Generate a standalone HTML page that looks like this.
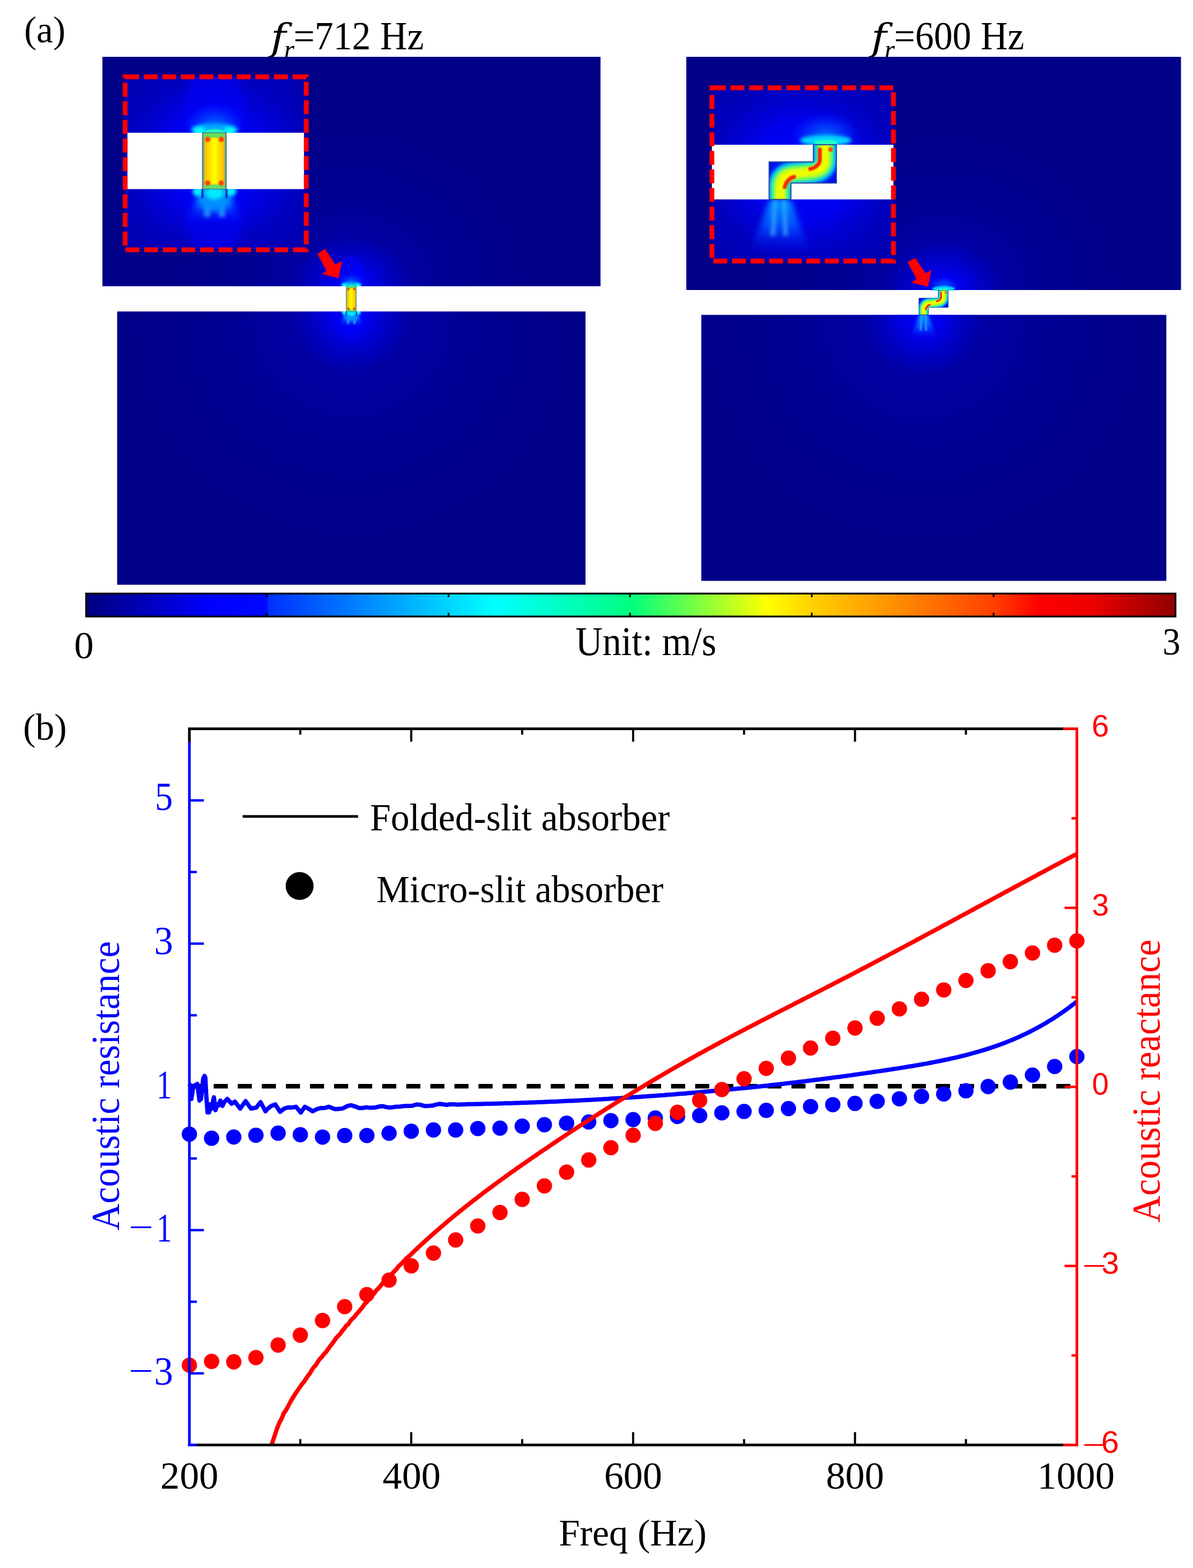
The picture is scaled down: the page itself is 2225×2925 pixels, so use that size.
<!DOCTYPE html>
<html><head><meta charset="utf-8"><title>Figure</title>
<style>html,body{margin:0;padding:0;background:#fff;} body{width:2225px;height:2925px;overflow:hidden;} svg{display:block;}</style>
</head><body>
<svg width="2225" height="2925" viewBox="0 0 2225 2925">
<rect x="0" y="0" width="2225" height="2925" fill="#fff"/>

<defs>
 <linearGradient id="cbar" x1="0" x2="1" y1="0" y2="0">
  <stop offset="0" stop-color="#00007f"/>
  <stop offset="0.115" stop-color="#0000ff"/>
  <stop offset="0.165" stop-color="#0008ff"/>
  <stop offset="0.168" stop-color="#0030ff"/>
  <stop offset="0.375" stop-color="#00ffff"/>
  <stop offset="0.5" stop-color="#00ff80"/>
  <stop offset="0.625" stop-color="#ffff00"/>
  <stop offset="0.667" stop-color="#ffd000"/>
  <stop offset="0.833" stop-color="#ff4000"/>
  <stop offset="0.875" stop-color="#ff0000"/>
  <stop offset="0.92" stop-color="#f00000"/>
  <stop offset="1" stop-color="#8f0000"/>
 </linearGradient>
 <radialGradient id="halo" cx="0.5" cy="0.5" r="0.5">
  <stop offset="0" stop-color="#0000ff" stop-opacity="0.75"/>
  <stop offset="0.25" stop-color="#0000ff" stop-opacity="0.45"/>
  <stop offset="0.6" stop-color="#0000ff" stop-opacity="0.15"/>
  <stop offset="1" stop-color="#0000ff" stop-opacity="0"/>
 </radialGradient>
 <radialGradient id="halo2" cx="0.5" cy="0.5" r="0.5">
  <stop offset="0" stop-color="#0000ff" stop-opacity="1"/>
  <stop offset="0.3" stop-color="#0000ff" stop-opacity="0.75"/>
  <stop offset="0.65" stop-color="#0000ff" stop-opacity="0.3"/>
  <stop offset="1" stop-color="#0000ff" stop-opacity="0"/>
 </radialGradient>
 <radialGradient id="insetbg" cx="0.5" cy="0.5" r="0.5">
  <stop offset="0" stop-color="#0000ff"/>
  <stop offset="0.4" stop-color="#0000f4" stop-opacity="0.9"/>
  <stop offset="1" stop-color="#0000b0" stop-opacity="0"/>
 </radialGradient>
 <radialGradient id="cyanglow" cx="0.5" cy="0.5" r="0.5">
  <stop offset="0" stop-color="#00ffff"/>
  <stop offset="0.35" stop-color="#00e0ff"/>
  <stop offset="0.7" stop-color="#0080ff" stop-opacity="0.7"/>
  <stop offset="1" stop-color="#0000ff" stop-opacity="0"/>
 </radialGradient>
 <radialGradient id="cyanglow2" cx="0.5" cy="0.5" r="0.5">
  <stop offset="0" stop-color="#00c0ff"/>
  <stop offset="0.4" stop-color="#0090ff"/>
  <stop offset="0.75" stop-color="#0040ff" stop-opacity="0.6"/>
  <stop offset="1" stop-color="#0000ff" stop-opacity="0"/>
 </radialGradient>
 <linearGradient id="slitg" x1="0" x2="1" y1="0" y2="0">
  <stop offset="0" stop-color="#30a0a0"/>
  <stop offset="0.12" stop-color="#ffc000"/>
  <stop offset="0.5" stop-color="#ffff00"/>
  <stop offset="0.88" stop-color="#ffc000"/>
  <stop offset="1" stop-color="#30a0a0"/>
 </linearGradient>
 <linearGradient id="zg" x1="0" y1="1" x2="1" y2="0">
  <stop offset="0" stop-color="#ffb000"/>
  <stop offset="0.3" stop-color="#ff4000"/>
  <stop offset="0.5" stop-color="#ffff00"/>
  <stop offset="0.7" stop-color="#ff4000"/>
  <stop offset="1" stop-color="#ffb000"/>
 </linearGradient>
 <filter id="blur3" x="-50%" y="-50%" width="200%" height="200%"><feGaussianBlur stdDeviation="3"/></filter>
 <filter id="blur6" x="-50%" y="-50%" width="200%" height="200%"><feGaussianBlur stdDeviation="6"/></filter>
 <filter id="blur1" x="-50%" y="-50%" width="200%" height="200%"><feGaussianBlur stdDeviation="1.2"/></filter>
 <clipPath id="cTL"><rect x="191" y="106" width="929" height="428"/></clipPath>
 <clipPath id="cBL"><rect x="218.5" y="581" width="873.5" height="509.8"/></clipPath>
 <clipPath id="cTR"><rect x="1280" y="106" width="922.6" height="435"/></clipPath>
 <clipPath id="cBR"><rect x="1308" y="587.4" width="867.3" height="496.2"/></clipPath>
 <clipPath id="cInL"><rect x="233" y="143" width="338" height="323"/></clipPath>
 <clipPath id="cInR"><rect x="1327.7" y="163.8" width="338.6" height="323.1"/></clipPath>
</defs>

<text transform="translate(44.92,79.48) scale(0.6961,0.7056)" font-family='"Liberation Serif", "Times New Roman", serif' font-style="normal" font-size="100" fill="#000">(a)</text>
<text transform="translate(504.79,94.10) scale(0.7810,0.6856)" font-family='"DejaVu Serif", serif' font-style="italic" font-size="100" fill="#000">f</text>
<text transform="translate(529.50,108.90) scale(0.5000,0.5000)" font-family='"Liberation Serif", "Times New Roman", serif' font-style="italic" font-size="100" fill="#000">r</text>
<text transform="translate(547.41,91.80) scale(0.6982,0.7385)" font-family='"Liberation Serif", "Times New Roman", serif' font-style="normal" font-size="100" fill="#000">=712 Hz</text>
<text transform="translate(1624.79,94.10) scale(0.7810,0.6856)" font-family='"DejaVu Serif", serif' font-style="italic" font-size="100" fill="#000">f</text>
<text transform="translate(1649.50,108.90) scale(0.5000,0.5000)" font-family='"Liberation Serif", "Times New Roman", serif' font-style="italic" font-size="100" fill="#000">r</text>
<text transform="translate(1667.41,91.97) scale(0.6982,0.7299)" font-family='"Liberation Serif", "Times New Roman", serif' font-style="normal" font-size="100" fill="#000">=600 Hz</text>
<rect x="191" y="106" width="929" height="428" fill="#000089"/>
<g clip-path="url(#cTL)"><ellipse cx="655" cy="540" rx="330" ry="300" fill="url(#halo)" opacity="0.55"/><ellipse cx="655" cy="534" rx="110" ry="95" fill="url(#halo2)"/></g>
<rect x="218.5" y="581" width="873.5" height="509.8" fill="#000089"/>
<g clip-path="url(#cBL)"><ellipse cx="655" cy="590" rx="420" ry="420" fill="url(#halo)" opacity="0.5"/><ellipse cx="655" cy="585" rx="110" ry="110" fill="url(#halo2)"/></g>
<rect x="1280" y="106" width="922.6" height="435" fill="#000089"/>
<g clip-path="url(#cTR)"><ellipse cx="1760" cy="545" rx="330" ry="300" fill="url(#halo)" opacity="0.55"/><ellipse cx="1760" cy="541" rx="110" ry="95" fill="url(#halo2)"/></g>
<rect x="1308" y="587.4" width="867.3" height="496.2" fill="#000089"/>
<g clip-path="url(#cBR)"><ellipse cx="1722" cy="595" rx="420" ry="420" fill="url(#halo)" opacity="0.5"/><ellipse cx="1722" cy="592" rx="110" ry="110" fill="url(#halo2)"/></g>
<defs><clipPath id="cZ"><polygon points="1517,270 1560,270 1560,341.6 1475.2,341.6 1475.2,372 1434.4,372 1434.4,302 1517,302"/></clipPath><radialGradient id="gLB" cx="0.5" cy="0.5" r="0.5"><stop offset="0" stop-color="#0070ff" stop-opacity="0.95"/><stop offset="0.55" stop-color="#0040ff" stop-opacity="0.6"/><stop offset="1" stop-color="#0000ff" stop-opacity="0"/></radialGradient><linearGradient id="gFan" x1="0" y1="0" x2="0" y2="1"><stop offset="0" stop-color="#00a0ff"/><stop offset="0.5" stop-color="#0060ff" stop-opacity="0.8"/><stop offset="1" stop-color="#0020ff" stop-opacity="0"/></linearGradient></defs>
<g transform="translate(481.78,422.76) scale(0.4337,0.4489)"><g><ellipse cx="400" cy="200" rx="55" ry="80" fill="#0000ff" opacity="0.55" filter="url(#blur6)"/><ellipse cx="400" cy="232" rx="62" ry="40" fill="url(#gLB)" filter="url(#blur6)"/><ellipse cx="400" cy="242" rx="44" ry="12" fill="#00a8ff" filter="url(#blur3)"/><ellipse cx="372" cy="244" rx="11" ry="7" fill="#00ffff" filter="url(#blur3)"/><ellipse cx="428" cy="244" rx="11" ry="7" fill="#00ffff" filter="url(#blur3)"/><ellipse cx="400" cy="246" rx="18" ry="5" fill="#20ffc0" filter="url(#blur1)"/><ellipse cx="400" cy="400" rx="55" ry="75" fill="#0000ff" opacity="0.5" filter="url(#blur6)"/><polygon points="376,352 424,352 452,415 348,415" fill="url(#gFan)" filter="url(#blur6)"/><polygon points="384,352 392,352 392,405 380,405" fill="#30b0ff" opacity="0.7" filter="url(#blur3)"/><polygon points="408,352 416,352 420,405 408,405" fill="#30b0ff" opacity="0.7" filter="url(#blur3)"/><ellipse cx="400" cy="372" rx="30" ry="22" fill="#0090ff" filter="url(#blur6)"/><ellipse cx="370" cy="357" rx="11" ry="9" fill="#00f0ff" filter="url(#blur3)"/><ellipse cx="430" cy="357" rx="11" ry="9" fill="#00f0ff" filter="url(#blur3)"/><ellipse cx="400" cy="360" rx="17" ry="12" fill="#00e8ff" filter="url(#blur3)"/><rect x="376" y="352" width="3" height="18" fill="#0000c0" filter="url(#blur1)"/><rect x="421" y="352" width="3" height="18" fill="#0000c0" filter="url(#blur1)"/><rect x="237.8" y="247.8" width="329" height="104.7" fill="#fff"/><rect x="377.5" y="247.8" width="44.5" height="104.7" fill="url(#slitg)"/><rect x="381" y="247.8" width="37.5" height="9" fill="#60e060" filter="url(#blur1)"/><rect x="381" y="344" width="37.5" height="8.5" fill="#60e060" filter="url(#blur1)"/><circle cx="387.4" cy="260" r="5" fill="#ff4000" filter="url(#blur1)"/><circle cx="412.7" cy="260" r="5" fill="#ff4000" filter="url(#blur1)"/><circle cx="387.4" cy="341.5" r="5" fill="#ff4000" filter="url(#blur1)"/><circle cx="412.7" cy="341.5" r="5" fill="#ff4000" filter="url(#blur1)"/><rect x="377.5" y="247.8" width="44.5" height="104.7" fill="none" stroke="#3a7aa0" stroke-width="1.5"/></g></g>
<g transform="translate(1087.96,422.88) scale(0.4363,0.4412)"><g><ellipse cx="1540" cy="252" rx="70" ry="42" fill="url(#gLB)" filter="url(#blur6)"/><ellipse cx="1540" cy="262" rx="48" ry="10" fill="#00d8ff" filter="url(#blur3)"/><ellipse cx="1540" cy="266" rx="22" ry="5" fill="#20ffc0" filter="url(#blur1)"/><polygon points="1436,372 1474,372 1510,470 1400,470" fill="url(#gFan)" filter="url(#blur6)"/><polygon points="1442,372 1450,372 1447,440 1436,440" fill="#30a8ff" opacity="0.7" filter="url(#blur3)"/><polygon points="1458,372 1466,372 1470,440 1460,440" fill="#30a8ff" opacity="0.7" filter="url(#blur3)"/><rect x="1300" y="270" width="400" height="102" fill="#fff"/><g clip-path="url(#cZ)"><polygon points="1517,270 1560,270 1560,341.6 1475.2,341.6 1475.2,372 1434.4,372 1434.4,302 1517,302" fill="#0010f0"/><path d="M1538.5,262 L1538.5,300 Q1537,318 1512,321 L1478,324 Q1456,327 1455,348 L1455,380" stroke="#00c8ff" stroke-width="44" fill="none" filter="url(#blur3)"/><path d="M1538.5,262 L1538.5,300 Q1537,318 1512,321 L1478,324 Q1456,327 1455,348 L1455,380" stroke="#60ff60" stroke-width="30" fill="none" filter="url(#blur3)"/><path d="M1538.5,262 L1538.5,300 Q1537,318 1512,321 L1478,324 Q1456,327 1455,348 L1455,380" stroke="#f0ff00" stroke-width="18" fill="none" filter="url(#blur3)"/><path d="M1529,276 L1529,300 Q1527,312 1508,316" stroke="#ff2000" stroke-width="7" fill="none" filter="url(#blur1)"/><path d="M1484,329 Q1466,333 1463,352" stroke="#ff2000" stroke-width="7" fill="none" filter="url(#blur1)"/><circle cx="1549" cy="279" r="4.5" fill="#ff5000" filter="url(#blur1)"/><path d="M1440,367 L1466,367" stroke="#ff3000" stroke-width="6" fill="none" filter="url(#blur1)"/></g><polygon points="1517,270 1560,270 1560,341.6 1475.2,341.6 1475.2,372 1434.4,372 1434.4,302 1517,302" fill="none" stroke="#2a4a9a" stroke-width="2"/></g></g>
<polygon points="592,474 606,464 625,493 638,487 631.4,519 600.5,511 609,505" fill="#ff0000"/>
<polygon points="1692.4,489 1706.7,481 1726.7,510 1737.1,503.3 1731,534.8 1699.5,527.1 1709.5,520.5" fill="#ff0000"/>
<g clip-path="url(#cInL)"><rect x="233" y="143" width="338" height="323" fill="#0000b0"/><ellipse cx="400" cy="300" rx="240" ry="230" fill="url(#insetbg)"/><rect x="237.8" y="247.8" width="329" height="104.7" fill="#fff"/><g><ellipse cx="400" cy="200" rx="55" ry="80" fill="#0000ff" opacity="0.55" filter="url(#blur6)"/><ellipse cx="400" cy="232" rx="62" ry="40" fill="url(#gLB)" filter="url(#blur6)"/><ellipse cx="400" cy="242" rx="44" ry="12" fill="#00a8ff" filter="url(#blur3)"/><ellipse cx="372" cy="244" rx="11" ry="7" fill="#00ffff" filter="url(#blur3)"/><ellipse cx="428" cy="244" rx="11" ry="7" fill="#00ffff" filter="url(#blur3)"/><ellipse cx="400" cy="246" rx="18" ry="5" fill="#20ffc0" filter="url(#blur1)"/><ellipse cx="400" cy="400" rx="55" ry="75" fill="#0000ff" opacity="0.5" filter="url(#blur6)"/><polygon points="376,352 424,352 452,415 348,415" fill="url(#gFan)" filter="url(#blur6)"/><polygon points="384,352 392,352 392,405 380,405" fill="#30b0ff" opacity="0.7" filter="url(#blur3)"/><polygon points="408,352 416,352 420,405 408,405" fill="#30b0ff" opacity="0.7" filter="url(#blur3)"/><ellipse cx="400" cy="372" rx="30" ry="22" fill="#0090ff" filter="url(#blur6)"/><ellipse cx="370" cy="357" rx="11" ry="9" fill="#00f0ff" filter="url(#blur3)"/><ellipse cx="430" cy="357" rx="11" ry="9" fill="#00f0ff" filter="url(#blur3)"/><ellipse cx="400" cy="360" rx="17" ry="12" fill="#00e8ff" filter="url(#blur3)"/><rect x="376" y="352" width="3" height="18" fill="#0000c0" filter="url(#blur1)"/><rect x="421" y="352" width="3" height="18" fill="#0000c0" filter="url(#blur1)"/><rect x="237.8" y="247.8" width="329" height="104.7" fill="#fff"/><rect x="377.5" y="247.8" width="44.5" height="104.7" fill="url(#slitg)"/><rect x="381" y="247.8" width="37.5" height="9" fill="#60e060" filter="url(#blur1)"/><rect x="381" y="344" width="37.5" height="8.5" fill="#60e060" filter="url(#blur1)"/><circle cx="387.4" cy="260" r="5" fill="#ff4000" filter="url(#blur1)"/><circle cx="412.7" cy="260" r="5" fill="#ff4000" filter="url(#blur1)"/><circle cx="387.4" cy="341.5" r="5" fill="#ff4000" filter="url(#blur1)"/><circle cx="412.7" cy="341.5" r="5" fill="#ff4000" filter="url(#blur1)"/><rect x="377.5" y="247.8" width="44.5" height="104.7" fill="none" stroke="#3a7aa0" stroke-width="1.5"/></g></g>
<rect x="233.3" y="143.3" width="337.9" height="322.6" fill="none" stroke="#ff0000" stroke-width="9" stroke-dasharray="26 8.7"/>
<g clip-path="url(#cInR)"><rect x="1327.7" y="163.8" width="338.6" height="323.1" fill="#0000b0"/><ellipse cx="1497" cy="320" rx="240" ry="230" fill="url(#insetbg)"/><rect x="1332.2" y="270" width="329.6" height="102" fill="#fff"/><g><ellipse cx="1540" cy="252" rx="70" ry="42" fill="url(#gLB)" filter="url(#blur6)"/><ellipse cx="1540" cy="262" rx="48" ry="10" fill="#00d8ff" filter="url(#blur3)"/><ellipse cx="1540" cy="266" rx="22" ry="5" fill="#20ffc0" filter="url(#blur1)"/><polygon points="1436,372 1474,372 1510,470 1400,470" fill="url(#gFan)" filter="url(#blur6)"/><polygon points="1442,372 1450,372 1447,440 1436,440" fill="#30a8ff" opacity="0.7" filter="url(#blur3)"/><polygon points="1458,372 1466,372 1470,440 1460,440" fill="#30a8ff" opacity="0.7" filter="url(#blur3)"/><rect x="1300" y="270" width="400" height="102" fill="#fff"/><g clip-path="url(#cZ)"><polygon points="1517,270 1560,270 1560,341.6 1475.2,341.6 1475.2,372 1434.4,372 1434.4,302 1517,302" fill="#0010f0"/><path d="M1538.5,262 L1538.5,300 Q1537,318 1512,321 L1478,324 Q1456,327 1455,348 L1455,380" stroke="#00c8ff" stroke-width="44" fill="none" filter="url(#blur3)"/><path d="M1538.5,262 L1538.5,300 Q1537,318 1512,321 L1478,324 Q1456,327 1455,348 L1455,380" stroke="#60ff60" stroke-width="30" fill="none" filter="url(#blur3)"/><path d="M1538.5,262 L1538.5,300 Q1537,318 1512,321 L1478,324 Q1456,327 1455,348 L1455,380" stroke="#f0ff00" stroke-width="18" fill="none" filter="url(#blur3)"/><path d="M1529,276 L1529,300 Q1527,312 1508,316" stroke="#ff2000" stroke-width="7" fill="none" filter="url(#blur1)"/><path d="M1484,329 Q1466,333 1463,352" stroke="#ff2000" stroke-width="7" fill="none" filter="url(#blur1)"/><circle cx="1549" cy="279" r="4.5" fill="#ff5000" filter="url(#blur1)"/><path d="M1440,367 L1466,367" stroke="#ff3000" stroke-width="6" fill="none" filter="url(#blur1)"/></g><polygon points="1517,270 1560,270 1560,341.6 1475.2,341.6 1475.2,372 1434.4,372 1434.4,302 1517,302" fill="none" stroke="#2a4a9a" stroke-width="2"/></g></g>
<rect x="1327.7" y="163.8" width="338.6" height="323.1" fill="none" stroke="#ff0000" stroke-width="9" stroke-dasharray="26 8.7"/>
<rect x="160.65" y="1107.25" width="2031.7" height="42.8" fill="url(#cbar)" stroke="#000" stroke-width="3.3"/>
<line x1="497.5" y1="1107" x2="497.5" y2="1114" stroke="#000" stroke-width="3"/>
<line x1="497.5" y1="1143" x2="497.5" y2="1150" stroke="#000" stroke-width="3"/>
<line x1="836.5" y1="1107" x2="836.5" y2="1114" stroke="#000" stroke-width="3"/>
<line x1="836.5" y1="1143" x2="836.5" y2="1150" stroke="#000" stroke-width="3"/>
<line x1="1175" y1="1107" x2="1175" y2="1114" stroke="#000" stroke-width="3"/>
<line x1="1175" y1="1143" x2="1175" y2="1150" stroke="#000" stroke-width="3"/>
<line x1="1514" y1="1107" x2="1514" y2="1114" stroke="#000" stroke-width="3"/>
<line x1="1514" y1="1143" x2="1514" y2="1150" stroke="#000" stroke-width="3"/>
<line x1="1853" y1="1107" x2="1853" y2="1114" stroke="#000" stroke-width="3"/>
<line x1="1853" y1="1143" x2="1853" y2="1150" stroke="#000" stroke-width="3"/>
<text transform="translate(138.28,1228.28) scale(0.7310,0.7164)" font-family='"Liberation Serif", "Times New Roman", serif' font-style="normal" font-size="100" fill="#000">0</text>
<text transform="translate(1073.20,1221.74) scale(0.7011,0.7603)" font-family='"Liberation Serif", "Times New Roman", serif' font-style="normal" font-size="100" fill="#000">Unit: m/s</text>
<text transform="translate(2168.37,1221.08) scale(0.6659,0.7239)" font-family='"Liberation Serif", "Times New Roman", serif' font-style="normal" font-size="100" fill="#000">3</text>
<text transform="translate(42.90,1380.08) scale(0.7009,0.7056)" font-family='"Liberation Serif", "Times New Roman", serif' font-style="normal" font-size="100" fill="#000">(b)</text>
<text transform="translate(299.05,2776.98) scale(0.7220,0.7224)" font-family='"Liberation Serif", "Times New Roman", serif' font-style="normal" font-size="100" fill="#000">200</text>
<text transform="translate(713.57,2776.98) scale(0.7220,0.7224)" font-family='"Liberation Serif", "Times New Roman", serif' font-style="normal" font-size="100" fill="#000">400</text>
<text transform="translate(1126.65,2776.98) scale(0.7220,0.7224)" font-family='"Liberation Serif", "Times New Roman", serif' font-style="normal" font-size="100" fill="#000">600</text>
<text transform="translate(1540.45,2776.98) scale(0.7220,0.7224)" font-family='"Liberation Serif", "Times New Roman", serif' font-style="normal" font-size="100" fill="#000">800</text>
<text transform="translate(1934.39,2776.98) scale(0.7220,0.7224)" font-family='"Liberation Serif", "Times New Roman", serif' font-style="normal" font-size="100" fill="#000">1000</text>
<text transform="translate(1042.19,2883.14) scale(0.7044,0.7078)" font-family='"Liberation Serif", "Times New Roman", serif' font-style="normal" font-size="100" fill="#000">Freq (Hz)</text>
<text transform="translate(288.91,1510.87) scale(0.6650,0.7318)" font-family='"Liberation Serif", "Times New Roman", serif' font-style="normal" font-size="100" fill="#0000ff">5</text>
<text transform="translate(287.46,1780.27) scale(0.7073,0.7313)" font-family='"Liberation Serif", "Times New Roman", serif' font-style="normal" font-size="100" fill="#0000ff">3</text>
<text transform="translate(291.96,2049.20) scale(0.5714,0.7569)" font-family='"Liberation Serif", "Times New Roman", serif' font-style="normal" font-size="100" fill="#0000ff">1</text>
<text transform="translate(291.96,2316.10) scale(0.5714,0.7646)" font-family='"Liberation Serif", "Times New Roman", serif' font-style="normal" font-size="100" fill="#0000ff">1</text>
<rect x="244.1" y="2287.8" width="38" height="3.2" fill="#0000ff"/>
<text transform="translate(287.46,2582.77) scale(0.7073,0.7313)" font-family='"Liberation Serif", "Times New Roman", serif' font-style="normal" font-size="100" fill="#0000ff">3</text>
<rect x="244.1" y="2555.8" width="38" height="3.2" fill="#0000ff"/>
<text transform="translate(2035.99,1374.02) scale(0.5826,0.5761)" font-family='"Liberation Sans", Arial, sans-serif' font-style="normal" font-size="100" fill="#ff0000">6</text>
<text transform="translate(2036.62,1708.02) scale(0.5702,0.5761)" font-family='"Liberation Sans", Arial, sans-serif' font-style="normal" font-size="100" fill="#ff0000">3</text>
<text transform="translate(2036.67,2042.02) scale(0.5583,0.5761)" font-family='"Liberation Sans", Arial, sans-serif' font-style="normal" font-size="100" fill="#ff0000">0</text>
<text transform="translate(2054.46,2376.02) scale(0.5851,0.5761)" font-family='"Liberation Sans", Arial, sans-serif' font-style="normal" font-size="100" fill="#ff0000">3</text>
<rect x="2022.1" y="2359.9" width="37.6" height="3.2" fill="#ff0000"/>
<text transform="translate(2053.81,2710.02) scale(0.5978,0.5761)" font-family='"Liberation Sans", Arial, sans-serif' font-style="normal" font-size="100" fill="#ff0000">6</text>
<rect x="2022.1" y="2693.9" width="37.6" height="3.2" fill="#ff0000"/>
<text transform="translate(221.76,2295.50) rotate(-90) scale(0.6970,0.7412)" font-family='"Liberation Serif", "Times New Roman", serif' font-style="normal" font-size="100" fill="#0000ff">Acoustic resistance</text>
<text transform="translate(2163.16,2280.70) rotate(-90) scale(0.6969,0.7441)" font-family='"Liberation Serif", "Times New Roman", serif' font-style="normal" font-size="100" fill="#ff0000">Acoustic reactance</text>
<line x1="452.5" y1="1523" x2="667.8" y2="1523" stroke="#000" stroke-width="5"/>
<circle cx="558.8" cy="1652.8" r="26" fill="#000"/>
<text transform="translate(690.01,1549.38) scale(0.6969,0.7200)" font-family='"Liberation Serif", "Times New Roman", serif' font-style="normal" font-size="100" fill="#000">Folded-slit absorber</text>
<text transform="translate(702.11,1683.29) scale(0.6962,0.7100)" font-family='"Liberation Serif", "Times New Roman", serif' font-style="normal" font-size="100" fill="#000">Micro-slit absorber</text>
<line x1="353.6" y1="2026.3" x2="1996.2" y2="2026.3" stroke="#000" stroke-width="8.5" stroke-dasharray="26.3 18.6"/>
<polyline points="353.0,2027.0 355.0,2024.0 357.0,2050.0 360.0,2030.0 364.0,2024.0 368.0,2022.0 372.0,2053.0 375.0,2050.0 377.0,2030.0 379.0,2012.0 381.5,2007.0 383.0,2010.0 384.5,2040.0 387.0,2075.0 390.0,2075.0 392.0,2060.0 394.0,2069.0 396.0,2060.0 399.0,2047.0 402.0,2071.0 405.0,2060.0 408.0,2062.0 411.0,2053.0 415.0,2063.0 418.0,2056.0 424.0,2050.0 432.0,2059.0 438.0,2055.0 448.0,2068.0 458.0,2054.0 468.0,2068.0 478.0,2066.0 486.0,2056.0 495.0,2073.0 500.0,2067.6 506.0,2063.0 513.4,2060.2 522.3,2074.0 530.0,2068.0 537.3,2065.7 544.6,2066.1 552.1,2064.6 561.0,2075.5 568.5,2064.6 575.0,2068.0 583.3,2073.0 590.6,2069.2 598.0,2067.0 605.5,2066.8 613.1,2064.6 625.0,2069.0 632.5,2068.6 639.9,2067.6 647.3,2063.4 654.8,2061.7 662.4,2064.1 670.0,2067.0 676.8,2066.8 683.7,2065.6 690.5,2066.6 699.2,2066.1 708.0,2064.0 714.1,2063.5 720.1,2065.1 726.2,2066.1 732.9,2065.4 739.6,2064.4 746.3,2064.2 753.0,2063.2 760.9,2063.0 768.9,2062.7 776.8,2060.2 784.2,2061.0 791.7,2063.2 798.8,2063.1 806.0,2062.6 813.1,2060.7 820.3,2059.2 827.4,2060.2 833.8,2061.0 840.1,2059.9 846.5,2059.9 852.9,2060.8 859.3,2060.3 865.6,2060.2 872.0,2059.8 876.8,2059.8 881.5,2059.7 886.3,2059.6 891.0,2059.5 895.8,2059.4 900.5,2059.2 905.3,2059.1 910.0,2059.0 914.8,2058.9 919.5,2058.8 924.3,2058.7 929.0,2058.5 933.8,2058.4 938.5,2058.3 943.3,2058.1 948.1,2058.0 952.8,2057.9 957.6,2057.7 962.3,2057.6 967.1,2057.4 971.8,2057.2 976.6,2057.1 981.3,2056.9 986.1,2056.8 990.8,2056.6 995.6,2056.4 1000.3,2056.2 1005.1,2056.0 1009.8,2055.9 1014.6,2055.7 1019.3,2055.5 1024.1,2055.3 1028.9,2055.1 1033.6,2054.9 1038.4,2054.7 1043.1,2054.5 1047.9,2054.3 1052.6,2054.1 1057.4,2053.8 1062.1,2053.6 1066.9,2053.4 1071.6,2053.2 1076.4,2052.9 1081.1,2052.7 1085.9,2052.4 1090.6,2052.2 1095.4,2052.0 1100.2,2051.7 1104.9,2051.5 1109.7,2051.2 1114.4,2050.9 1119.2,2050.7 1123.9,2050.4 1128.7,2050.1 1133.4,2049.9 1138.2,2049.6 1142.9,2049.3 1147.7,2049.0 1152.4,2048.7 1157.2,2048.4 1161.9,2048.1 1166.7,2047.8 1171.4,2047.5 1176.2,2047.2 1181.0,2046.9 1185.7,2046.6 1190.5,2046.3 1195.2,2045.9 1200.0,2045.6 1204.7,2045.3 1209.5,2044.9 1214.2,2044.6 1219.0,2044.3 1223.7,2043.9 1228.5,2043.6 1233.2,2043.2 1238.0,2042.9 1242.7,2042.5 1247.5,2042.1 1252.3,2041.8 1257.0,2041.4 1261.8,2041.0 1266.5,2040.6 1271.3,2040.2 1276.0,2039.9 1280.8,2039.5 1285.5,2039.1 1290.3,2038.7 1295.0,2038.3 1299.8,2037.9 1304.5,2037.5 1309.3,2037.0 1314.0,2036.6 1318.8,2036.2 1323.5,2035.8 1328.3,2035.3 1333.1,2034.9 1337.8,2034.5 1342.6,2034.0 1347.3,2033.6 1352.1,2033.1 1356.8,2032.7 1361.6,2032.2 1366.3,2031.8 1371.1,2031.3 1375.8,2030.8 1380.6,2030.3 1385.3,2029.9 1390.1,2029.4 1394.8,2028.9 1399.6,2028.4 1404.4,2027.9 1409.1,2027.4 1413.9,2026.9 1418.6,2026.4 1423.4,2025.9 1428.1,2025.4 1432.9,2024.9 1437.6,2024.3 1442.4,2023.8 1447.1,2023.3 1451.9,2022.7 1456.6,2022.2 1461.4,2021.7 1466.1,2021.1 1470.9,2020.6 1475.6,2020.0 1480.4,2019.4 1485.2,2018.9 1489.9,2018.3 1494.7,2017.7 1499.4,2017.2 1504.2,2016.6 1508.9,2016.0 1513.7,2015.4 1518.4,2014.8 1523.2,2014.2 1527.9,2013.6 1532.7,2013.0 1537.4,2012.4 1542.2,2011.8 1546.9,2011.2 1551.7,2010.5 1556.5,2009.9 1561.2,2009.3 1566.0,2008.7 1570.7,2008.0 1575.5,2007.4 1580.2,2006.7 1585.0,2006.1 1589.7,2005.4 1594.5,2004.7 1599.2,2004.1 1604.0,2003.4 1608.7,2002.7 1613.5,2002.1 1618.2,2001.4 1623.0,2000.7 1627.7,2000.0 1632.5,1999.3 1637.3,1998.6 1642.0,1997.9 1646.8,1997.2 1651.5,1996.5 1656.3,1995.8 1661.0,1995.1 1665.8,1994.3 1670.5,1993.6 1675.3,1992.9 1680.0,1992.1 1684.8,1991.4 1689.5,1990.6 1694.3,1989.8 1699.0,1989.0 1703.8,1988.2 1708.6,1987.4 1713.3,1986.6 1718.1,1985.8 1722.8,1984.9 1727.6,1984.1 1732.3,1983.2 1737.1,1982.3 1741.8,1981.4 1746.6,1980.4 1751.3,1979.5 1756.1,1978.5 1760.8,1977.5 1765.6,1976.5 1770.3,1975.5 1775.1,1974.4 1779.8,1973.4 1784.6,1972.3 1789.4,1971.1 1794.1,1970.0 1798.9,1968.8 1803.6,1967.6 1808.4,1966.3 1813.1,1965.0 1817.9,1963.7 1822.6,1962.4 1827.4,1961.0 1832.1,1959.6 1836.9,1958.1 1841.6,1956.6 1846.4,1955.1 1851.1,1953.5 1855.9,1951.9 1860.7,1950.2 1865.4,1948.5 1870.2,1946.7 1874.9,1944.9 1879.7,1943.1 1884.4,1941.1 1889.2,1939.2 1893.9,1937.1 1898.7,1935.1 1903.4,1932.9 1908.2,1930.7 1912.9,1928.5 1917.7,1926.1 1922.4,1923.8 1927.2,1921.3 1931.9,1918.8 1936.7,1916.2 1941.5,1913.6 1946.2,1910.9 1951.0,1908.1 1955.7,1905.2 1960.5,1902.3 1965.2,1899.3 1970.0,1896.2 1974.7,1893.0 1979.5,1889.8 1984.2,1886.5 1989.0,1883.1 1993.7,1879.6 1998.5,1876.0 2003.2,1872.4 2008.0,1868.6" fill="none" stroke="#0000ff" stroke-width="8" stroke-linejoin="round"/>
<circle cx="353.2" cy="2115.7" r="14.3" fill="#0000ff"/>
<circle cx="394.6" cy="2123.3" r="14.3" fill="#0000ff"/>
<circle cx="436.0" cy="2121" r="14.3" fill="#0000ff"/>
<circle cx="477.3" cy="2117.7" r="14.3" fill="#0000ff"/>
<circle cx="518.7" cy="2113.8" r="14.3" fill="#0000ff"/>
<circle cx="560.1" cy="2116.7" r="14.3" fill="#0000ff"/>
<circle cx="601.5" cy="2121.2" r="14.3" fill="#0000ff"/>
<circle cx="642.9" cy="2118.2" r="14.3" fill="#0000ff"/>
<circle cx="684.2" cy="2118.2" r="14.3" fill="#0000ff"/>
<circle cx="725.6" cy="2114" r="14.3" fill="#0000ff"/>
<circle cx="767.0" cy="2110.2" r="14.3" fill="#0000ff"/>
<circle cx="808.4" cy="2107.9" r="14.3" fill="#0000ff"/>
<circle cx="849.8" cy="2107.9" r="14.3" fill="#0000ff"/>
<circle cx="891.1" cy="2105.2" r="14.3" fill="#0000ff"/>
<circle cx="932.5" cy="2104.5" r="14.3" fill="#0000ff"/>
<circle cx="973.9" cy="2100.8" r="14.3" fill="#0000ff"/>
<circle cx="1015.3" cy="2098.1" r="14.3" fill="#0000ff"/>
<circle cx="1056.7" cy="2095.2" r="14.3" fill="#0000ff"/>
<circle cx="1098.0" cy="2093" r="14.3" fill="#0000ff"/>
<circle cx="1139.4" cy="2090.5" r="14.3" fill="#0000ff"/>
<circle cx="1180.8" cy="2088.5" r="14.3" fill="#0000ff"/>
<circle cx="1222.2" cy="2085.5" r="14.3" fill="#0000ff"/>
<circle cx="1263.6" cy="2082.7" r="14.3" fill="#0000ff"/>
<circle cx="1304.9" cy="2081" r="14.3" fill="#0000ff"/>
<circle cx="1346.3" cy="2076" r="14.3" fill="#0000ff"/>
<circle cx="1387.7" cy="2073.3" r="14.3" fill="#0000ff"/>
<circle cx="1429.1" cy="2071.3" r="14.3" fill="#0000ff"/>
<circle cx="1470.5" cy="2068" r="14.3" fill="#0000ff"/>
<circle cx="1511.8" cy="2064.2" r="14.3" fill="#0000ff"/>
<circle cx="1553.2" cy="2060.7" r="14.3" fill="#0000ff"/>
<circle cx="1594.6" cy="2058.3" r="14.3" fill="#0000ff"/>
<circle cx="1636.0" cy="2054.5" r="14.3" fill="#0000ff"/>
<circle cx="1677.4" cy="2049.7" r="14.3" fill="#0000ff"/>
<circle cx="1718.7" cy="2045.2" r="14.3" fill="#0000ff"/>
<circle cx="1760.1" cy="2040.7" r="14.3" fill="#0000ff"/>
<circle cx="1801.5" cy="2034.8" r="14.3" fill="#0000ff"/>
<circle cx="1842.9" cy="2026.9" r="14.3" fill="#0000ff"/>
<circle cx="1884.3" cy="2018.6" r="14.3" fill="#0000ff"/>
<circle cx="1925.6" cy="2005.5" r="14.3" fill="#0000ff"/>
<circle cx="1967.0" cy="1989.5" r="14.3" fill="#0000ff"/>
<circle cx="2008.4" cy="1971" r="14.3" fill="#0000ff"/>
<polyline points="506.5,2695.2 510.3,2683.9 514.0,2672.8 517.8,2661.7 521.6,2652.9 525.3,2646.2 529.1,2636.5 532.8,2631.5 536.6,2624.7 540.4,2617.5 544.1,2610.8 547.9,2604.6 551.7,2598.6 555.4,2593.3 559.2,2587.8 562.9,2582.4 566.7,2578.0 570.5,2572.2 574.2,2566.5 578.0,2562.2 581.8,2555.2 585.5,2550.0 589.3,2546.1 593.1,2539.7 596.8,2534.7 600.6,2530.9 604.3,2525.9 608.1,2522.2 611.9,2516.6 615.6,2511.6 619.4,2506.8 623.2,2501.5 626.9,2496.2 630.7,2491.9 634.4,2488.5 638.2,2482.7 642.0,2478.5 645.7,2473.1 649.5,2470.5 653.3,2464.3 657.0,2460.1 660.8,2457.0 664.6,2451.7 668.3,2448.0 672.1,2443.1 675.8,2438.9 679.6,2432.9 683.4,2429.5 687.1,2425.1 690.9,2421.6 694.7,2416.0 698.4,2412.2 702.2,2406.6 705.9,2403.2 709.7,2398.8 713.5,2394.1 717.2,2391.6 721.0,2386.4 724.8,2383.7 728.5,2378.8 732.3,2374.8 736.1,2370.9 739.8,2367.1 743.6,2361.9 747.3,2358.8 751.1,2354.5 754.9,2351.1 758.6,2346.6 762.4,2343.9 766.2,2340.3 769.9,2336.6 773.7,2333.0 777.4,2329.5 781.2,2325.9 785.0,2322.4 788.7,2319.0 792.5,2315.5 796.3,2312.1 800.0,2308.7 803.8,2305.3 807.6,2302.0 811.3,2298.7 815.1,2295.4 818.8,2292.1 822.6,2288.9 826.4,2285.7 830.1,2282.5 833.9,2279.3 837.7,2276.1 841.4,2273.0 845.2,2269.9 848.9,2266.8 852.7,2263.7 856.5,2260.6 860.2,2257.6 864.0,2254.5 867.8,2251.5 871.5,2248.5 875.3,2245.6 879.1,2242.6 882.8,2239.7 886.6,2236.8 890.3,2233.9 894.1,2231.0 897.9,2228.1 901.6,2225.2 905.4,2222.4 909.2,2219.6 912.9,2216.8 916.7,2214.0 920.4,2211.2 924.2,2208.4 928.0,2205.6 931.7,2202.9 935.5,2200.1 939.3,2197.4 943.0,2194.7 946.8,2192.0 950.6,2189.3 954.3,2186.6 958.1,2184.0 961.8,2181.3 965.6,2178.6 969.4,2176.0 973.1,2173.3 976.9,2170.7 980.7,2168.1 984.4,2165.5 988.2,2162.9 991.9,2160.3 995.7,2157.7 999.5,2155.1 1003.2,2152.5 1007.0,2149.9 1010.8,2147.4 1014.5,2144.8 1018.3,2142.3 1022.1,2139.7 1025.8,2137.2 1029.6,2134.6 1033.3,2132.1 1037.1,2129.6 1040.9,2127.0 1044.6,2124.5 1048.4,2122.0 1052.2,2119.5 1055.9,2117.0 1059.7,2114.5 1063.4,2112.0 1067.2,2109.6 1071.0,2107.1 1074.7,2104.6 1078.5,2102.2 1082.3,2099.7 1086.0,2097.3 1089.8,2094.8 1093.6,2092.4 1097.3,2089.9 1101.1,2087.5 1104.8,2085.1 1108.6,2082.7 1112.4,2080.3 1116.1,2077.9 1119.9,2075.5 1123.7,2073.1 1127.4,2070.7 1131.2,2068.3 1134.9,2066.0 1138.7,2063.6 1142.5,2061.3 1146.2,2058.9 1150.0,2056.6 1153.8,2054.2 1157.5,2051.9 1161.3,2049.6 1165.1,2047.3 1168.8,2044.9 1172.6,2042.6 1176.3,2040.3 1180.1,2038.0 1183.9,2035.7 1187.6,2033.5 1191.4,2031.2 1195.2,2028.9 1198.9,2026.7 1202.7,2024.4 1206.4,2022.2 1210.2,2019.9 1214.0,2017.7 1217.7,2015.4 1221.5,2013.2 1225.3,2011.0 1229.0,2008.8 1232.8,2006.6 1236.6,2004.4 1240.3,2002.2 1244.1,2000.0 1247.8,1997.8 1251.6,1995.6 1255.4,1993.5 1259.1,1991.3 1262.9,1989.1 1266.7,1987.0 1270.4,1984.9 1274.2,1982.7 1277.9,1980.6 1281.7,1978.5 1285.5,1976.3 1289.2,1974.2 1293.0,1972.1 1296.8,1970.0 1300.5,1967.9 1304.3,1965.9 1308.1,1963.8 1311.8,1961.7 1315.6,1959.6 1319.3,1957.6 1323.1,1955.5 1326.9,1953.5 1330.6,1951.4 1334.4,1949.4 1338.2,1947.4 1341.9,1945.3 1345.7,1943.3 1349.4,1941.3 1353.2,1939.3 1357.0,1937.3 1360.7,1935.3 1364.5,1933.3 1368.3,1931.3 1372.0,1929.3 1375.8,1927.3 1379.6,1925.3 1383.3,1923.3 1387.1,1921.4 1390.8,1919.4 1394.6,1917.4 1398.4,1915.5 1402.1,1913.5 1405.9,1911.5 1409.7,1909.6 1413.4,1907.6 1417.2,1905.7 1420.9,1903.7 1424.7,1901.8 1428.5,1899.9 1432.2,1897.9 1436.0,1896.0 1439.8,1894.0 1443.5,1892.1 1447.3,1890.2 1451.1,1888.2 1454.8,1886.3 1458.6,1884.4 1462.3,1882.5 1466.1,1880.5 1469.9,1878.6 1473.6,1876.7 1477.4,1874.8 1481.2,1872.8 1484.9,1870.9 1488.7,1869.0 1492.4,1867.1 1496.2,1865.1 1500.0,1863.2 1503.7,1861.3 1507.5,1859.4 1511.3,1857.5 1515.0,1855.5 1518.8,1853.6 1522.6,1851.7 1526.3,1849.8 1530.1,1847.8 1533.8,1845.9 1537.6,1844.0 1541.4,1842.0 1545.1,1840.1 1548.9,1838.2 1552.7,1836.2 1556.4,1834.3 1560.2,1832.3 1563.9,1830.4 1567.7,1828.4 1571.5,1826.5 1575.2,1824.5 1579.0,1822.6 1582.8,1820.6 1586.5,1818.7 1590.3,1816.7 1594.1,1814.8 1597.8,1812.8 1601.6,1810.8 1605.3,1808.8 1609.1,1806.9 1612.9,1804.9 1616.6,1802.9 1620.4,1800.9 1624.2,1799.0 1627.9,1797.0 1631.7,1795.0 1635.4,1793.0 1639.2,1791.0 1643.0,1789.0 1646.7,1787.0 1650.5,1785.0 1654.3,1783.0 1658.0,1781.0 1661.8,1779.0 1665.6,1777.0 1669.3,1775.0 1673.1,1773.0 1676.8,1771.0 1680.6,1769.0 1684.4,1767.0 1688.1,1765.0 1691.9,1763.0 1695.7,1761.0 1699.4,1759.0 1703.2,1757.0 1706.9,1754.9 1710.7,1752.9 1714.5,1750.9 1718.2,1748.9 1722.0,1746.9 1725.8,1744.8 1729.5,1742.8 1733.3,1740.8 1737.1,1738.8 1740.8,1736.7 1744.6,1734.7 1748.3,1732.7 1752.1,1730.7 1755.9,1728.6 1759.6,1726.6 1763.4,1724.6 1767.2,1722.5 1770.9,1720.5 1774.7,1718.5 1778.4,1716.4 1782.2,1714.4 1786.0,1712.4 1789.7,1710.3 1793.5,1708.3 1797.3,1706.3 1801.0,1704.2 1804.8,1702.2 1808.6,1700.2 1812.3,1698.1 1816.1,1696.1 1819.8,1694.1 1823.6,1692.0 1827.4,1690.0 1831.1,1688.0 1834.9,1685.9 1838.7,1683.9 1842.4,1681.9 1846.2,1679.8 1849.9,1677.8 1853.7,1675.8 1857.5,1673.7 1861.2,1671.7 1865.0,1669.7 1868.8,1667.6 1872.5,1665.6 1876.3,1663.6 1880.1,1661.5 1883.8,1659.5 1887.6,1657.5 1891.3,1655.4 1895.1,1653.4 1898.9,1651.4 1902.6,1649.3 1906.4,1647.3 1910.2,1645.3 1913.9,1643.3 1917.7,1641.2 1921.4,1639.2 1925.2,1637.2 1929.0,1635.2 1932.7,1633.2 1936.5,1631.1 1940.3,1629.1 1944.0,1627.1 1947.8,1625.1 1951.6,1623.1 1955.3,1621.1 1959.1,1619.0 1962.8,1617.0 1966.6,1615.0 1970.4,1613.0 1974.1,1611.0 1977.9,1609.0 1981.7,1607.0 1985.4,1605.0 1989.2,1603.0 1992.9,1601.0 1996.7,1599.0 2000.5,1597.0 2004.2,1595.0 2008.0,1593.0" fill="none" stroke="#ff0000" stroke-width="8" stroke-linejoin="round"/>
<circle cx="353.2" cy="2546.7" r="14.3" fill="#ff0000"/>
<circle cx="394.6" cy="2539.6" r="14.3" fill="#ff0000"/>
<circle cx="436.0" cy="2540.4" r="14.3" fill="#ff0000"/>
<circle cx="477.3" cy="2532.5" r="14.3" fill="#ff0000"/>
<circle cx="518.7" cy="2509.1" r="14.3" fill="#ff0000"/>
<circle cx="560.1" cy="2490.6" r="14.3" fill="#ff0000"/>
<circle cx="601.5" cy="2463.4" r="14.3" fill="#ff0000"/>
<circle cx="642.9" cy="2437.5" r="14.3" fill="#ff0000"/>
<circle cx="684.2" cy="2415" r="14.3" fill="#ff0000"/>
<circle cx="725.6" cy="2388" r="14.3" fill="#ff0000"/>
<circle cx="767.0" cy="2361.3" r="14.3" fill="#ff0000"/>
<circle cx="808.4" cy="2337.6" r="14.3" fill="#ff0000"/>
<circle cx="849.8" cy="2313.1" r="14.3" fill="#ff0000"/>
<circle cx="891.1" cy="2287" r="14.3" fill="#ff0000"/>
<circle cx="932.5" cy="2261.8" r="14.3" fill="#ff0000"/>
<circle cx="973.9" cy="2237.3" r="14.3" fill="#ff0000"/>
<circle cx="1015.3" cy="2212.2" r="14.3" fill="#ff0000"/>
<circle cx="1056.7" cy="2186.6" r="14.3" fill="#ff0000"/>
<circle cx="1098.0" cy="2163.9" r="14.3" fill="#ff0000"/>
<circle cx="1139.4" cy="2141" r="14.3" fill="#ff0000"/>
<circle cx="1180.8" cy="2117.8" r="14.3" fill="#ff0000"/>
<circle cx="1222.2" cy="2095.6" r="14.3" fill="#ff0000"/>
<circle cx="1263.6" cy="2074.8" r="14.3" fill="#ff0000"/>
<circle cx="1304.9" cy="2052.6" r="14.3" fill="#ff0000"/>
<circle cx="1346.3" cy="2032.5" r="14.3" fill="#ff0000"/>
<circle cx="1387.7" cy="2012.4" r="14.3" fill="#ff0000"/>
<circle cx="1429.1" cy="1993" r="14.3" fill="#ff0000"/>
<circle cx="1470.5" cy="1973.8" r="14.3" fill="#ff0000"/>
<circle cx="1511.8" cy="1955" r="14.3" fill="#ff0000"/>
<circle cx="1553.2" cy="1936.8" r="14.3" fill="#ff0000"/>
<circle cx="1594.6" cy="1917.6" r="14.3" fill="#ff0000"/>
<circle cx="1636.0" cy="1899.5" r="14.3" fill="#ff0000"/>
<circle cx="1677.4" cy="1882" r="14.3" fill="#ff0000"/>
<circle cx="1718.7" cy="1864" r="14.3" fill="#ff0000"/>
<circle cx="1760.1" cy="1846.7" r="14.3" fill="#ff0000"/>
<circle cx="1801.5" cy="1829" r="14.3" fill="#ff0000"/>
<circle cx="1842.9" cy="1810.8" r="14.3" fill="#ff0000"/>
<circle cx="1884.3" cy="1793.9" r="14.3" fill="#ff0000"/>
<circle cx="1925.6" cy="1777.7" r="14.3" fill="#ff0000"/>
<circle cx="1967.0" cy="1763.2" r="14.3" fill="#ff0000"/>
<circle cx="2008.4" cy="1755.2" r="14.3" fill="#ff0000"/>
<line x1="353.2" y1="1359.5" x2="1983" y2="1359.5" stroke="#000" stroke-width="5"/>
<line x1="367" y1="2695.5" x2="1983" y2="2695.5" stroke="#000" stroke-width="5"/>
<line x1="353.2" y1="1384" x2="353.2" y2="2698.0" stroke="#0000ff" stroke-width="5"/>
<line x1="350.7" y1="2695.5" x2="367" y2="2695.5" stroke="#0000ff" stroke-width="5"/>
<line x1="353.2" y1="1357.0" x2="353.2" y2="1384" stroke="#000" stroke-width="5"/>
<line x1="2008.4" y1="1357.0" x2="2008.4" y2="2698.0" stroke="#ff0000" stroke-width="5"/>
<line x1="1983" y1="1359.5" x2="2008.4" y2="1359.5" stroke="#ff0000" stroke-width="5"/>
<line x1="1983" y1="2695.5" x2="2008.4" y2="2695.5" stroke="#ff0000" stroke-width="5"/>
<line x1="560.1" y1="1359.5" x2="560.1" y2="1370.5" stroke="#000" stroke-width="4"/>
<line x1="560.1" y1="2695.5" x2="560.1" y2="2684.5" stroke="#000" stroke-width="4"/>
<line x1="767.0" y1="1359.5" x2="767.0" y2="1383.5" stroke="#000" stroke-width="4"/>
<line x1="767.0" y1="2695.5" x2="767.0" y2="2671.5" stroke="#000" stroke-width="4"/>
<line x1="973.9" y1="1359.5" x2="973.9" y2="1370.5" stroke="#000" stroke-width="4"/>
<line x1="973.9" y1="2695.5" x2="973.9" y2="2684.5" stroke="#000" stroke-width="4"/>
<line x1="1180.8" y1="1359.5" x2="1180.8" y2="1383.5" stroke="#000" stroke-width="4"/>
<line x1="1180.8" y1="2695.5" x2="1180.8" y2="2671.5" stroke="#000" stroke-width="4"/>
<line x1="1387.7" y1="1359.5" x2="1387.7" y2="1370.5" stroke="#000" stroke-width="4"/>
<line x1="1387.7" y1="2695.5" x2="1387.7" y2="2684.5" stroke="#000" stroke-width="4"/>
<line x1="1594.6" y1="1359.5" x2="1594.6" y2="1383.5" stroke="#000" stroke-width="4"/>
<line x1="1594.6" y1="2695.5" x2="1594.6" y2="2671.5" stroke="#000" stroke-width="4"/>
<line x1="1801.5" y1="1359.5" x2="1801.5" y2="1370.5" stroke="#000" stroke-width="4"/>
<line x1="1801.5" y1="2695.5" x2="1801.5" y2="2684.5" stroke="#000" stroke-width="4"/>
<line x1="353.2" y1="1493.1" x2="380.2" y2="1493.1" stroke="#0000ff" stroke-width="4.5"/>
<line x1="353.2" y1="1626.7" x2="367.2" y2="1626.7" stroke="#0000ff" stroke-width="4.5"/>
<line x1="353.2" y1="1760.3" x2="380.2" y2="1760.3" stroke="#0000ff" stroke-width="4.5"/>
<line x1="353.2" y1="1893.9" x2="367.2" y2="1893.9" stroke="#0000ff" stroke-width="4.5"/>
<line x1="353.2" y1="2027.5" x2="380.2" y2="2027.5" stroke="#0000ff" stroke-width="4.5"/>
<line x1="353.2" y1="2161.1" x2="367.2" y2="2161.1" stroke="#0000ff" stroke-width="4.5"/>
<line x1="353.2" y1="2294.7" x2="380.2" y2="2294.7" stroke="#0000ff" stroke-width="4.5"/>
<line x1="353.2" y1="2428.3" x2="367.2" y2="2428.3" stroke="#0000ff" stroke-width="4.5"/>
<line x1="353.2" y1="2561.9" x2="380.2" y2="2561.9" stroke="#0000ff" stroke-width="4.5"/>
<line x1="2008.4" y1="1526.5" x2="1998.4" y2="1526.5" stroke="#ff0000" stroke-width="4.5"/>
<line x1="2008.4" y1="1693.5" x2="1985.4" y2="1693.5" stroke="#ff0000" stroke-width="4.5"/>
<line x1="2008.4" y1="1860.5" x2="1998.4" y2="1860.5" stroke="#ff0000" stroke-width="4.5"/>
<line x1="2008.4" y1="2027.5" x2="1985.4" y2="2027.5" stroke="#ff0000" stroke-width="4.5"/>
<line x1="2008.4" y1="2194.5" x2="1998.4" y2="2194.5" stroke="#ff0000" stroke-width="4.5"/>
<line x1="2008.4" y1="2361.5" x2="1985.4" y2="2361.5" stroke="#ff0000" stroke-width="4.5"/>
<line x1="2008.4" y1="2528.5" x2="1998.4" y2="2528.5" stroke="#ff0000" stroke-width="4.5"/>
</svg>
</body></html>
